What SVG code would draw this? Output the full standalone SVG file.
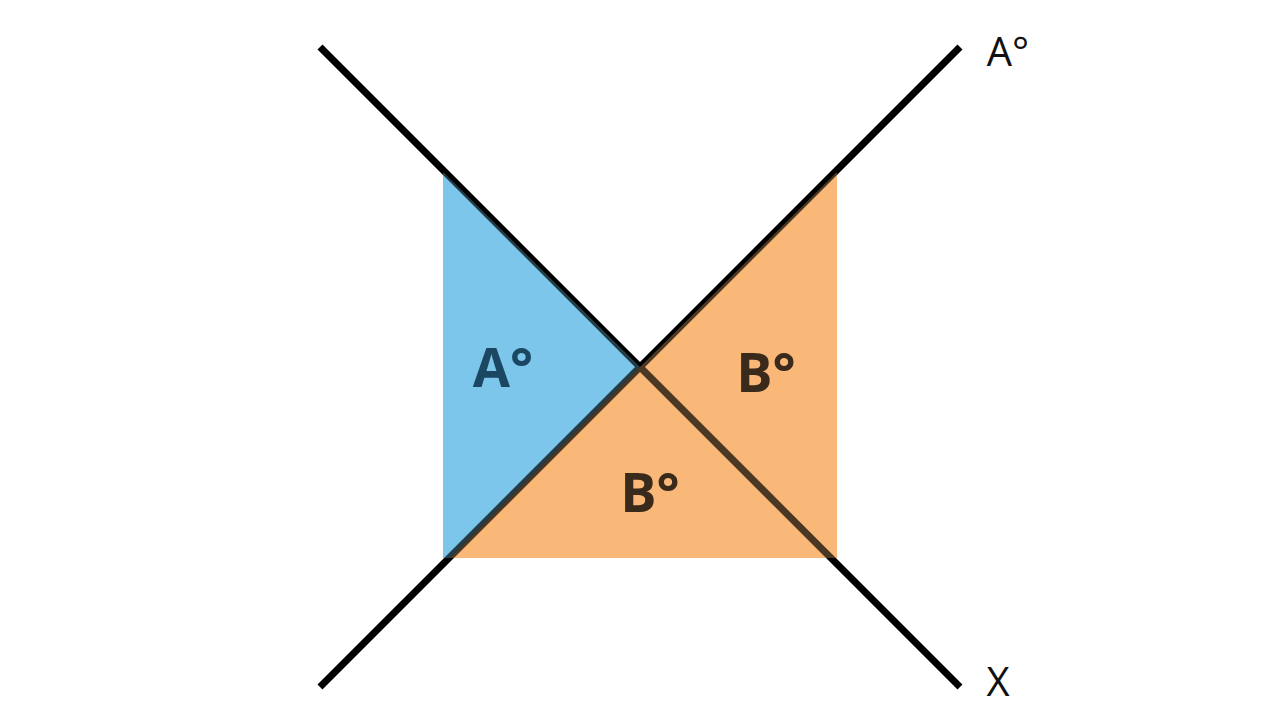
<svg xmlns="http://www.w3.org/2000/svg" width="1280" height="720" viewBox="0 0 1280 720">
<style>
.ln{stroke:#000;stroke-width:7;stroke-linecap:butt}
.big{font-family:"Open Sans","Liberation Sans",sans-serif;font-weight:bold;font-size:54px;text-anchor:middle}
.sm{font-family:"Open Sans","Liberation Sans",sans-serif;font-size:40px;fill:#111;text-anchor:middle}
</style>
<rect width="1280" height="720" fill="#fff"/>
<g id="blue-region">
<polygon points="443,172 640,367 450,558 443,558" fill="#7cc6ea"/>
</g>
<g id="orange-region">
<polygon points="640,367 837,172 837,558 450,558" fill="#f9b878"/>
</g>
<g id="connectors">
<line class="ln" x1="320" y1="47" x2="960" y2="687"/>
<line class="ln" x1="320" y1="687" x2="960" y2="47"/>
</g>
<polygon points="443,172 640,367 450,558 443,558" fill="#7cc6ea" opacity="0.3"/>
<polygon points="640,367 837,172 837,558 450,558" fill="#f9b878" opacity="0.3"/>
<g id="labels">
<text class="big" x="503" y="387" fill="#1b4763">A°</text>
<text class="big" x="766" y="392" fill="#3a2a1c">B°</text>
<text class="big" x="650" y="512" fill="#3a2a1c">B°</text>
<text class="sm" x="1008" y="66">A°</text>
<text class="sm" x="998" y="696">X</text>
</g>
</svg>
